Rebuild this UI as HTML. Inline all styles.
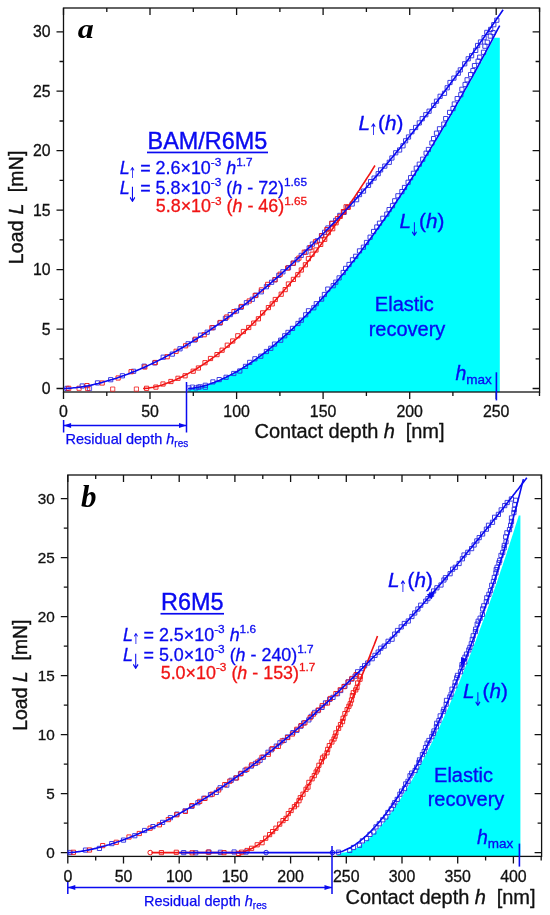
<!DOCTYPE html><html><head><meta charset="utf-8"><title>Load-depth curves</title><style>html,body{margin:0;padding:0;background:#fff}svg{display:block}</style></head><body>
<svg width="550" height="915" viewBox="0 0 550 915" font-family='"Liberation Sans", Arial, sans-serif'>
<rect width="550" height="915" fill="#fff"/>
<polygon fill="#00ffff" points="188.7,388.5 189.5,388.5 190.4,388.4 191.3,388.4 192.1,388.3 193.0,388.2 193.9,388.1 194.7,388.0 195.6,387.8 196.5,387.7 197.3,387.5 198.2,387.4 199.1,387.2 199.9,387.0 200.8,386.8 201.7,386.6 202.5,386.4 203.4,386.1 204.2,385.9 205.1,385.7 206.0,385.4 206.8,385.2 207.7,384.9 208.6,384.6 209.4,384.3 210.3,384.0 211.2,383.8 212.0,383.4 212.9,383.1 213.8,382.8 214.6,382.5 215.5,382.2 216.4,381.8 217.2,381.5 218.1,381.1 219.0,380.7 219.8,380.4 220.7,380.0 221.6,379.6 222.4,379.2 223.3,378.8 224.2,378.4 225.0,378.0 225.9,377.6 226.8,377.2 227.6,376.8 228.5,376.3 229.4,375.9 230.2,375.4 231.1,375.0 232.0,374.5 232.8,374.1 233.7,373.6 234.6,373.1 235.4,372.6 236.3,372.2 237.2,371.7 238.0,371.2 238.9,370.7 239.7,370.1 240.6,369.6 241.5,369.1 242.3,368.6 243.2,368.0 244.1,367.5 244.9,367.0 245.8,366.4 246.7,365.9 247.5,365.3 248.4,364.7 249.3,364.2 250.1,363.6 251.0,363.0 251.9,362.4 252.7,361.8 253.6,361.2 254.5,360.6 255.3,360.0 256.2,359.4 257.1,358.8 257.9,358.2 258.8,357.5 259.7,356.9 260.5,356.3 261.4,355.6 262.3,355.0 263.1,354.3 264.0,353.7 264.9,353.0 265.7,352.3 266.6,351.7 267.5,351.0 268.3,350.3 269.2,349.6 270.1,348.9 270.9,348.2 271.8,347.5 272.7,346.8 273.5,346.1 274.4,345.4 275.3,344.7 276.1,343.9 277.0,343.2 277.9,342.5 278.7,341.7 279.6,341.0 280.5,340.2 281.3,339.5 282.2,338.7 283.1,338.0 283.9,337.2 284.8,336.4 285.7,335.6 286.5,334.9 287.4,334.1 288.3,333.3 289.1,332.5 290.0,331.7 290.9,330.9 291.7,330.1 292.6,329.3 293.5,328.5 294.3,327.6 295.2,326.8 296.1,326.0 296.9,325.1 297.8,324.3 298.7,323.5 299.5,322.6 300.4,321.8 301.3,320.9 302.1,320.0 303.0,319.2 303.9,318.3 304.7,317.4 305.6,316.6 306.5,315.7 307.3,314.8 308.2,313.9 309.1,313.0 309.9,312.1 310.8,311.2 311.7,310.3 312.5,309.4 313.4,308.5 314.3,307.6 315.1,306.6 316.0,305.7 316.9,304.8 317.7,303.8 318.6,302.9 319.5,302.0 320.3,301.0 321.2,300.1 322.1,299.1 322.9,298.1 323.8,297.2 324.7,296.2 325.5,295.2 326.4,294.3 327.3,293.3 328.1,292.3 329.0,291.3 329.9,290.3 330.7,289.3 331.6,288.3 332.5,287.3 333.3,286.3 334.2,285.3 335.1,284.3 335.9,283.3 336.8,282.2 337.7,281.2 338.5,280.2 339.4,279.2 340.3,278.1 341.1,277.1 342.0,276.0 342.9,275.0 343.7,273.9 344.6,272.9 345.5,271.8 346.3,270.7 347.2,269.7 348.1,268.6 348.9,267.5 349.8,266.4 350.7,265.3 351.5,264.3 352.4,263.2 353.3,262.1 354.1,261.0 355.0,259.9 355.9,258.8 356.7,257.6 357.6,256.5 358.5,255.4 359.3,254.3 360.2,253.2 361.1,252.0 361.9,250.9 362.8,249.8 363.7,248.6 364.5,247.5 365.4,246.3 366.3,245.2 367.1,244.0 368.0,242.9 368.9,241.7 369.7,240.5 370.6,239.4 371.5,238.2 372.3,237.0 373.2,235.8 374.1,234.7 374.9,233.5 375.8,232.3 376.7,231.1 377.5,229.9 378.4,228.7 379.3,227.5 380.1,226.3 381.0,225.0 381.9,223.8 382.7,222.6 383.6,221.4 384.5,220.2 385.3,218.9 386.2,217.7 387.1,216.5 387.9,215.2 388.8,214.0 389.7,212.7 390.5,211.5 391.4,210.2 392.3,209.0 393.1,207.7 394.0,206.4 394.9,205.2 395.7,203.9 396.6,202.6 397.5,201.3 398.3,200.0 399.2,198.8 400.1,197.5 400.9,196.2 401.8,194.9 402.7,193.6 403.5,192.3 404.4,191.0 405.3,189.7 406.1,188.3 407.0,187.0 407.9,185.7 408.7,184.4 409.6,183.1 410.5,181.7 411.3,180.4 412.2,179.0 413.1,177.7 413.9,176.4 414.8,175.0 415.7,173.7 416.5,172.3 417.4,171.0 418.3,169.6 419.1,168.2 420.0,166.9 420.9,165.5 421.7,164.1 422.6,162.7 423.5,161.4 424.3,160.0 425.2,158.6 426.1,157.2 426.9,155.8 427.8,154.4 428.7,153.0 429.5,151.6 430.4,150.2 431.3,148.8 432.1,147.4 433.0,145.9 433.9,144.5 434.8,143.1 435.6,141.7 436.5,140.2 437.4,138.8 438.2,137.4 439.1,135.9 440.0,134.5 440.8,133.0 441.7,131.6 442.6,130.1 443.4,128.7 444.3,127.2 445.2,125.8 446.0,124.3 446.9,122.8 447.8,121.3 448.6,119.9 449.5,118.4 450.4,116.9 451.2,115.4 452.1,113.9 453.0,112.4 453.8,110.9 454.7,109.4 455.6,107.9 456.4,106.4 457.3,104.9 458.2,103.4 459.0,101.9 459.9,100.4 460.8,98.9 461.6,97.3 462.5,95.8 463.4,94.3 464.2,92.8 465.1,91.2 466.0,89.7 466.8,88.1 467.7,86.6 468.6,85.0 469.4,83.5 470.3,81.9 471.2,80.4 472.0,78.8 472.9,77.3 473.8,75.7 474.6,74.1 475.5,72.5 476.4,71.0 477.2,69.4 478.1,67.8 479.0,66.2 479.9,64.6 480.7,63.0 481.6,61.4 482.5,59.8 483.3,58.2 484.2,56.6 485.1,55.0 485.9,53.4 486.8,51.8 487.7,50.2 488.5,48.6 489.4,47.0 490.3,45.3 491.1,43.7 492.0,42.1 492.9,40.4 493.7,38.8 493.7,37.7 499.8,37.7 499.8,392.0 188.1,392.0"/>
<rect x="63.5" y="8.0" width="476.1" height="384.0" fill="none" stroke="#111" stroke-width="1.3"/>
<path d="M63.5 388.5h-7.0M539.6 388.5h-7.0M63.5 358.8h-4.0M539.6 358.8h-4.0M63.5 329.1h-7.0M539.6 329.1h-7.0M63.5 299.3h-4.0M539.6 299.3h-4.0M63.5 269.6h-7.0M539.6 269.6h-7.0M63.5 239.9h-4.0M539.6 239.9h-4.0M63.5 210.1h-7.0M539.6 210.1h-7.0M63.5 180.4h-4.0M539.6 180.4h-4.0M63.5 150.7h-7.0M539.6 150.7h-7.0M63.5 121.0h-4.0M539.6 121.0h-4.0M63.5 91.2h-7.0M539.6 91.2h-7.0M63.5 61.5h-4.0M539.6 61.5h-4.0M63.5 31.8h-7.0M539.6 31.8h-7.0M63.5 392.0v7.0M63.5 8.0v7.0M106.8 392.0v4.0M106.8 8.0v4.0M150.0 392.0v7.0M150.0 8.0v7.0M193.3 392.0v4.0M193.3 8.0v4.0M236.6 392.0v7.0M236.6 8.0v7.0M279.9 392.0v4.0M279.9 8.0v4.0M323.1 392.0v7.0M323.1 8.0v7.0M366.4 392.0v4.0M366.4 8.0v4.0M409.7 392.0v7.0M409.7 8.0v7.0M452.9 392.0v4.0M452.9 8.0v4.0M496.2 392.0v7.0M496.2 8.0v7.0M539.5 392.0v4.0M539.5 8.0v4.0" stroke="#111" stroke-width="1.3" fill="none"/>
<text x="50.5" y="394.1" text-anchor="end" font-size="15.8" fill="#111" stroke="#111" stroke-width="0.3">0</text>
<text x="50.5" y="334.7" text-anchor="end" font-size="15.8" fill="#111" stroke="#111" stroke-width="0.3">5</text>
<text x="50.5" y="275.2" text-anchor="end" font-size="15.8" fill="#111" stroke="#111" stroke-width="0.3">10</text>
<text x="50.5" y="215.7" text-anchor="end" font-size="15.8" fill="#111" stroke="#111" stroke-width="0.3">15</text>
<text x="50.5" y="156.3" text-anchor="end" font-size="15.8" fill="#111" stroke="#111" stroke-width="0.3">20</text>
<text x="50.5" y="96.8" text-anchor="end" font-size="15.8" fill="#111" stroke="#111" stroke-width="0.3">25</text>
<text x="50.5" y="37.4" text-anchor="end" font-size="15.8" fill="#111" stroke="#111" stroke-width="0.3">30</text>
<text x="63.5" y="416.6" text-anchor="middle" font-size="15.9" fill="#111" stroke="#111" stroke-width="0.3">0</text>
<text x="150.0" y="416.6" text-anchor="middle" font-size="15.9" fill="#111" stroke="#111" stroke-width="0.3">50</text>
<text x="236.6" y="416.6" text-anchor="middle" font-size="15.9" fill="#111" stroke="#111" stroke-width="0.3">100</text>
<text x="323.1" y="416.6" text-anchor="middle" font-size="15.9" fill="#111" stroke="#111" stroke-width="0.3">150</text>
<text x="409.7" y="416.6" text-anchor="middle" font-size="15.9" fill="#111" stroke="#111" stroke-width="0.3">200</text>
<text x="496.2" y="416.6" text-anchor="middle" font-size="15.9" fill="#111" stroke="#111" stroke-width="0.3">250</text>
<path d="M64.9 386.3h4.2v4.2h-4.2zM80.1 383.9h4.2v4.2h-4.2zM95.4 380.8h4.2v4.2h-4.2zM108.6 377.6h4.2v4.2h-4.2zM120.3 373.7h4.2v4.2h-4.2zM131.5 369.2h4.2v4.2h-4.2zM142.0 364.1h4.2v4.2h-4.2zM152.6 360.8h4.2v4.2h-4.2zM161.1 355.1h4.2v4.2h-4.2zM170.2 352.0h4.2v4.2h-4.2zM177.9 346.7h4.2v4.2h-4.2zM186.0 341.7h4.2v4.2h-4.2zM192.7 337.9h4.2v4.2h-4.2zM198.4 333.1h4.2v4.2h-4.2zM205.1 330.1h4.2v4.2h-4.2zM211.0 325.6h4.2v4.2h-4.2zM217.9 320.9h4.2v4.2h-4.2zM223.3 316.3h4.2v4.2h-4.2zM228.1 312.5h4.2v4.2h-4.2zM234.4 308.9h4.2v4.2h-4.2zM238.9 305.2h4.2v4.2h-4.2zM244.3 300.6h4.2v4.2h-4.2zM250.2 297.2h4.2v4.2h-4.2zM253.9 293.1h4.2v4.2h-4.2zM259.2 289.7h4.2v4.2h-4.2zM264.3 284.6h4.2v4.2h-4.2zM269.5 280.2h4.2v4.2h-4.2zM272.8 277.6h4.2v4.2h-4.2zM276.7 273.3h4.2v4.2h-4.2zM280.8 269.7h4.2v4.2h-4.2zM286.4 265.6h4.2v4.2h-4.2zM291.0 261.2h4.2v4.2h-4.2zM295.0 257.6h4.2v4.2h-4.2zM299.1 253.3h4.2v4.2h-4.2zM303.9 250.0h4.2v4.2h-4.2zM307.1 245.8h4.2v4.2h-4.2zM310.3 242.0h4.2v4.2h-4.2zM315.2 238.7h4.2v4.2h-4.2zM319.4 233.5h4.2v4.2h-4.2zM322.5 230.2h4.2v4.2h-4.2zM325.8 225.9h4.2v4.2h-4.2zM329.9 221.2h4.2v4.2h-4.2zM333.6 218.3h4.2v4.2h-4.2zM337.7 213.3h4.2v4.2h-4.2zM342.0 210.3h4.2v4.2h-4.2zM345.4 205.3h4.2v4.2h-4.2zM350.1 201.9h4.2v4.2h-4.2zM354.5 197.6h4.2v4.2h-4.2zM357.4 192.5h4.2v4.2h-4.2zM361.4 189.0h4.2v4.2h-4.2zM366.4 183.2h4.2v4.2h-4.2zM368.5 179.5h4.2v4.2h-4.2zM372.0 176.0h4.2v4.2h-4.2zM376.1 171.6h4.2v4.2h-4.2zM378.5 167.8h4.2v4.2h-4.2zM382.7 164.0h4.2v4.2h-4.2zM387.2 160.2h4.2v4.2h-4.2zM389.8 155.9h4.2v4.2h-4.2zM393.6 150.7h4.2v4.2h-4.2zM397.5 147.9h4.2v4.2h-4.2zM400.9 143.7h4.2v4.2h-4.2zM403.5 138.7h4.2v4.2h-4.2zM406.4 134.9h4.2v4.2h-4.2zM409.8 129.6h4.2v4.2h-4.2zM413.5 125.4h4.2v4.2h-4.2zM417.2 120.8h4.2v4.2h-4.2zM420.1 116.6h4.2v4.2h-4.2zM423.7 112.6h4.2v4.2h-4.2zM427.0 109.1h4.2v4.2h-4.2zM431.6 103.3h4.2v4.2h-4.2zM434.4 99.1h4.2v4.2h-4.2zM438.0 94.2h4.2v4.2h-4.2zM442.4 91.2h4.2v4.2h-4.2zM445.1 85.7h4.2v4.2h-4.2zM447.9 80.4h4.2v4.2h-4.2zM451.8 76.0h4.2v4.2h-4.2zM456.2 71.1h4.2v4.2h-4.2zM458.2 67.8h4.2v4.2h-4.2zM462.6 61.7h4.2v4.2h-4.2zM466.1 56.7h4.2v4.2h-4.2zM469.5 53.6h4.2v4.2h-4.2zM473.6 48.3h4.2v4.2h-4.2zM475.5 43.4h4.2v4.2h-4.2zM478.4 39.9h4.2v4.2h-4.2zM482.0 35.6h4.2v4.2h-4.2zM484.7 30.3h4.2v4.2h-4.2zM488.6 27.3h4.2v4.2h-4.2zM491.7 22.6h4.2v4.2h-4.2zM494.7 18.1h4.2v4.2h-4.2z" fill="none" stroke="#2a2ae0" stroke-width="1" opacity="0.9"/>
<path d="M196.4 385.1h4.2v4.2h-4.2zM203.2 383.2h4.2v4.2h-4.2zM210.8 379.8h4.2v4.2h-4.2zM217.1 377.5h4.2v4.2h-4.2zM224.0 375.2h4.2v4.2h-4.2zM231.7 371.4h4.2v4.2h-4.2zM237.7 368.9h4.2v4.2h-4.2zM243.4 364.3h4.2v4.2h-4.2zM247.6 360.3h4.2v4.2h-4.2zM252.8 356.7h4.2v4.2h-4.2zM258.7 354.1h4.2v4.2h-4.2zM264.3 349.4h4.2v4.2h-4.2zM268.7 346.2h4.2v4.2h-4.2zM272.4 342.0h4.2v4.2h-4.2zM278.6 338.1h4.2v4.2h-4.2zM282.6 333.7h4.2v4.2h-4.2zM285.9 330.3h4.2v4.2h-4.2zM290.4 326.3h4.2v4.2h-4.2zM295.9 321.4h4.2v4.2h-4.2zM299.2 318.1h4.2v4.2h-4.2zM303.6 312.7h4.2v4.2h-4.2zM306.4 308.7h4.2v4.2h-4.2zM311.7 305.7h4.2v4.2h-4.2zM314.2 301.6h4.2v4.2h-4.2zM319.5 297.0h4.2v4.2h-4.2zM322.3 292.4h4.2v4.2h-4.2zM325.7 287.0h4.2v4.2h-4.2zM331.1 283.6h4.2v4.2h-4.2zM333.7 280.1h4.2v4.2h-4.2zM337.0 275.8h4.2v4.2h-4.2zM341.1 270.4h4.2v4.2h-4.2zM343.5 266.3h4.2v4.2h-4.2zM346.9 262.4h4.2v4.2h-4.2zM350.4 257.7h4.2v4.2h-4.2zM353.6 254.2h4.2v4.2h-4.2zM357.4 248.8h4.2v4.2h-4.2zM361.3 245.1h4.2v4.2h-4.2zM364.4 240.4h4.2v4.2h-4.2zM368.0 235.1h4.2v4.2h-4.2zM371.5 229.4h4.2v4.2h-4.2zM374.7 224.9h4.2v4.2h-4.2zM377.4 221.1h4.2v4.2h-4.2zM380.7 216.2h4.2v4.2h-4.2zM384.7 212.0h4.2v4.2h-4.2zM387.0 207.5h4.2v4.2h-4.2zM390.4 203.6h4.2v4.2h-4.2zM392.6 198.7h4.2v4.2h-4.2zM395.8 193.7h4.2v4.2h-4.2zM399.8 189.5h4.2v4.2h-4.2zM402.4 185.4h4.2v4.2h-4.2zM406.0 180.2h4.2v4.2h-4.2zM408.5 175.6h4.2v4.2h-4.2zM411.3 171.2h4.2v4.2h-4.2zM414.2 166.1h4.2v4.2h-4.2zM417.2 162.1h4.2v4.2h-4.2zM420.6 157.1h4.2v4.2h-4.2zM424.0 151.1h4.2v4.2h-4.2zM426.3 147.4h4.2v4.2h-4.2zM429.8 140.9h4.2v4.2h-4.2zM431.5 136.5h4.2v4.2h-4.2zM434.4 131.1h4.2v4.2h-4.2zM437.4 126.7h4.2v4.2h-4.2zM441.7 122.0h4.2v4.2h-4.2zM443.6 116.5h4.2v4.2h-4.2zM447.5 110.3h4.2v4.2h-4.2zM450.9 106.5h4.2v4.2h-4.2zM452.2 101.9h4.2v4.2h-4.2zM455.1 96.5h4.2v4.2h-4.2zM458.7 92.6h4.2v4.2h-4.2zM459.8 87.2h4.2v4.2h-4.2zM463.0 82.4h4.2v4.2h-4.2zM465.0 77.7h4.2v4.2h-4.2zM468.5 72.5h4.2v4.2h-4.2zM470.8 68.5h4.2v4.2h-4.2zM472.4 63.5h4.2v4.2h-4.2zM476.0 59.1h4.2v4.2h-4.2zM477.6 55.1h4.2v4.2h-4.2zM481.4 50.2h4.2v4.2h-4.2zM482.8 44.1h4.2v4.2h-4.2zM485.2 40.1h4.2v4.2h-4.2zM488.2 34.0h4.2v4.2h-4.2zM491.0 30.5h4.2v4.2h-4.2z" fill="none" stroke="#2a2ae0" stroke-width="1" opacity="0.9"/>
<path d="M66.6 386.2h4.2v4.2h-4.2zM84.9 383.5h4.2v4.2h-4.2zM100.1 380.9h4.2v4.2h-4.2zM116.0 375.9h4.2v4.2h-4.2zM129.0 369.6h4.2v4.2h-4.2zM142.7 364.9h4.2v4.2h-4.2zM153.2 360.4h4.2v4.2h-4.2zM165.1 354.6h4.2v4.2h-4.2zM174.0 349.2h4.2v4.2h-4.2zM183.5 343.7h4.2v4.2h-4.2zM193.3 337.1h4.2v4.2h-4.2zM202.1 332.6h4.2v4.2h-4.2zM209.8 325.6h4.2v4.2h-4.2zM218.1 320.4h4.2v4.2h-4.2zM224.7 314.9h4.2v4.2h-4.2zM231.9 309.5h4.2v4.2h-4.2zM239.3 304.4h4.2v4.2h-4.2zM247.1 298.9h4.2v4.2h-4.2zM253.1 293.4h4.2v4.2h-4.2zM259.3 287.8h4.2v4.2h-4.2zM265.6 282.3h4.2v4.2h-4.2zM273.0 277.6h4.2v4.2h-4.2zM278.1 272.1h4.2v4.2h-4.2zM285.5 266.0h4.2v4.2h-4.2zM291.3 261.0h4.2v4.2h-4.2zM296.8 256.0h4.2v4.2h-4.2zM302.2 250.1h4.2v4.2h-4.2zM308.4 245.5h4.2v4.2h-4.2zM313.4 239.7h4.2v4.2h-4.2zM319.7 233.7h4.2v4.2h-4.2zM324.7 227.5h4.2v4.2h-4.2zM329.7 221.3h4.2v4.2h-4.2zM335.4 216.5h4.2v4.2h-4.2zM341.3 209.5h4.2v4.2h-4.2zM346.2 205.1h4.2v4.2h-4.2z" fill="none" stroke="#f01414" stroke-width="1" opacity="0.9"/>
<path d="M144.5 386.2h4.2v4.2h-4.2zM153.8 385.0h4.2v4.2h-4.2zM160.9 381.9h4.2v4.2h-4.2zM168.8 379.4h4.2v4.2h-4.2zM175.9 376.2h4.2v4.2h-4.2zM183.0 373.7h4.2v4.2h-4.2zM191.1 369.1h4.2v4.2h-4.2zM196.3 365.9h4.2v4.2h-4.2zM202.9 360.6h4.2v4.2h-4.2zM208.4 356.4h4.2v4.2h-4.2zM214.9 352.5h4.2v4.2h-4.2zM220.0 348.1h4.2v4.2h-4.2zM225.2 343.1h4.2v4.2h-4.2zM230.6 338.9h4.2v4.2h-4.2zM235.7 333.7h4.2v4.2h-4.2zM241.3 329.4h4.2v4.2h-4.2zM246.6 325.4h4.2v4.2h-4.2zM251.6 321.0h4.2v4.2h-4.2zM256.3 316.7h4.2v4.2h-4.2zM260.5 310.8h4.2v4.2h-4.2zM266.3 305.5h4.2v4.2h-4.2zM270.1 301.8h4.2v4.2h-4.2zM273.2 297.4h4.2v4.2h-4.2zM279.1 292.1h4.2v4.2h-4.2zM283.1 287.5h4.2v4.2h-4.2zM286.3 281.9h4.2v4.2h-4.2zM291.3 277.3h4.2v4.2h-4.2zM295.7 272.6h4.2v4.2h-4.2zM299.2 267.9h4.2v4.2h-4.2zM303.3 262.7h4.2v4.2h-4.2zM306.3 256.6h4.2v4.2h-4.2zM310.0 252.1h4.2v4.2h-4.2zM313.9 247.9h4.2v4.2h-4.2zM318.6 242.3h4.2v4.2h-4.2zM322.6 237.2h4.2v4.2h-4.2zM326.2 230.6h4.2v4.2h-4.2zM330.6 226.6h4.2v4.2h-4.2zM334.0 220.7h4.2v4.2h-4.2zM338.1 214.3h4.2v4.2h-4.2zM341.7 209.7h4.2v4.2h-4.2zM344.0 204.7h4.2v4.2h-4.2z" fill="none" stroke="#f01414" stroke-width="1" opacity="0.9"/>
<path d="M186.9 385.8h4.2v4.2h-4.2z" fill="none" stroke="#2a2ae0" stroke-width="0.9" opacity="0.85"/>
<path d="M190.3 385.0h4.2v4.2h-4.2z" fill="none" stroke="#2a2ae0" stroke-width="0.9" opacity="0.85"/>
<path d="M193.8 385.8h4.2v4.2h-4.2z" fill="none" stroke="#2a2ae0" stroke-width="0.9" opacity="0.85"/>
<path d="M198.1 384.6h4.2v4.2h-4.2z" fill="none" stroke="#2a2ae0" stroke-width="0.9" opacity="0.85"/>
<path d="M203.3 385.2h4.2v4.2h-4.2z" fill="none" stroke="#2a2ae0" stroke-width="0.9" opacity="0.85"/>
<path d="M87.4 386.4h4.2v4.2h-4.2z" fill="none" stroke="#2a2ae0" stroke-width="0.9" opacity="0.85"/>
<path d="M110.6 387.0h4.2v4.2h-4.2z" fill="none" stroke="#f01414" stroke-width="0.9" opacity="0.85"/>
<path d="M134.3 387.0h4.2v4.2h-4.2z" fill="none" stroke="#f01414" stroke-width="0.9" opacity="0.85"/>
<path d="M77.0 386.2h4.2v4.2h-4.2z" fill="none" stroke="#f01414" stroke-width="0.9" opacity="0.85"/>
<path d="M85.6 386.4h4.2v4.2h-4.2z" fill="none" stroke="#f01414" stroke-width="0.9" opacity="0.85"/>
<polyline points="143.1,388.5 144.8,388.4 146.6,388.3 148.3,388.1 150.0,387.8 151.8,387.5 153.5,387.2 155.2,386.8 157.0,386.4 158.7,385.9 160.4,385.4 162.2,384.9 163.9,384.3 165.6,383.8 167.3,383.1 169.1,382.5 170.8,381.8 172.5,381.1 174.3,380.4 176.0,379.6 177.7,378.8 179.5,378.0 181.2,377.2 182.9,376.3 184.7,375.4 186.4,374.5 188.1,373.6 189.8,372.6 191.6,371.7 193.3,370.7 195.0,369.6 196.8,368.6 198.5,367.5 200.2,366.4 202.0,365.3 203.7,364.2 205.4,363.0 207.2,361.8 208.9,360.6 210.6,359.4 212.3,358.2 214.1,356.9 215.8,355.6 217.5,354.3 219.3,353.0 221.0,351.7 222.7,350.3 224.5,348.9 226.2,347.5 227.9,346.1 229.7,344.7 231.4,343.2 233.1,341.7 234.8,340.2 236.6,338.7 238.3,337.2 240.0,335.6 241.8,334.1 243.5,332.5 245.2,330.9 247.0,329.3 248.7,327.6 250.4,326.0 252.2,324.3 253.9,322.6 255.6,320.9 257.3,319.2 259.1,317.4 260.8,315.7 262.5,313.9 264.3,312.1 266.0,310.3 267.7,308.5 269.5,306.6 271.2,304.8 272.9,302.9 274.7,301.0 276.4,299.1 278.1,297.2 279.9,295.2 281.6,293.3 283.3,291.3 285.0,289.3 286.8,287.3 288.5,285.3 290.2,283.3 292.0,281.2 293.7,279.2 295.4,277.1 297.2,275.0 298.9,272.9 300.6,270.7 302.4,268.6 304.1,266.4 305.8,264.3 307.5,262.1 309.3,259.9 311.0,257.6 312.7,255.4 314.5,253.2 316.2,250.9 317.9,248.6 319.7,246.3 321.4,244.0 323.1,241.7 324.9,239.4 326.6,237.0 328.3,234.7 330.0,232.3 331.8,229.9 333.5,227.5 335.2,225.0 337.0,222.6 338.7,220.2 340.4,217.7 342.2,215.2 343.9,212.7 345.6,210.2 347.4,207.7 349.1,205.2 350.8,202.6 352.5,200.0 354.3,197.5 356.0,194.9 357.7,192.3 359.5,189.7 361.2,187.0 362.9,184.4 364.7,181.7 366.4,179.0 368.1,176.4 369.9,173.7 371.6,171.0 373.3,168.2 375.0,165.5" fill="none" stroke="#f01414" stroke-width="1.6"/>
<polyline points="63.5,388.5 65.2,388.5 67.0,388.4 68.7,388.3 70.4,388.2 72.2,388.0 73.9,387.8 75.6,387.7 77.3,387.4 79.1,387.2 80.8,387.0 82.5,386.7 84.3,386.4 86.0,386.1 87.7,385.8 89.5,385.4 91.2,385.1 92.9,384.7 94.7,384.3 96.4,383.9 98.1,383.5 99.8,383.0 101.6,382.6 103.3,382.1 105.0,381.6 106.8,381.1 108.5,380.6 110.2,380.1 112.0,379.6 113.7,379.0 115.4,378.5 117.2,377.9 118.9,377.3 120.6,376.7 122.3,376.1 124.1,375.5 125.8,374.8 127.5,374.2 129.3,373.5 131.0,372.8 132.7,372.1 134.5,371.4 136.2,370.7 137.9,370.0 139.7,369.3 141.4,368.5 143.1,367.8 144.8,367.0 146.6,366.2 148.3,365.4 150.0,364.6 151.8,363.8 153.5,363.0 155.2,362.1 157.0,361.3 158.7,360.4 160.4,359.5 162.2,358.6 163.9,357.7 165.6,356.8 167.3,355.9 169.1,355.0 170.8,354.0 172.5,353.1 174.3,352.1 176.0,351.2 177.7,350.2 179.5,349.2 181.2,348.2 182.9,347.2 184.7,346.2 186.4,345.1 188.1,344.1 189.8,343.0 191.6,342.0 193.3,340.9 195.0,339.8 196.8,338.7 198.5,337.6 200.2,336.5 202.0,335.4 203.7,334.2 205.4,333.1 207.2,331.9 208.9,330.8 210.6,329.6 212.3,328.4 214.1,327.2 215.8,326.0 217.5,324.8 219.3,323.6 221.0,322.4 222.7,321.1 224.5,319.9 226.2,318.6 227.9,317.3 229.7,316.1 231.4,314.8 233.1,313.5 234.8,312.2 236.6,310.8 238.3,309.5 240.0,308.2 241.8,306.8 243.5,305.5 245.2,304.1 247.0,302.8 248.7,301.4 250.4,300.0 252.2,298.6 253.9,297.2 255.6,295.8 257.3,294.3 259.1,292.9 260.8,291.5 262.5,290.0 264.3,288.6 266.0,287.1 267.7,285.6 269.5,284.1 271.2,282.6 272.9,281.1 274.7,279.6 276.4,278.1 278.1,276.6 279.9,275.0 281.6,273.5 283.3,271.9 285.0,270.4 286.8,268.8 288.5,267.2 290.2,265.6 292.0,264.0 293.7,262.4 295.4,260.8 297.2,259.2 298.9,257.5 300.6,255.9 302.4,254.2 304.1,252.6 305.8,250.9 307.5,249.2 309.3,247.6 311.0,245.9 312.7,244.2 314.5,242.5 316.2,240.7 317.9,239.0 319.7,237.3 321.4,235.5 323.1,233.8 324.9,232.0 326.6,230.3 328.3,228.5 330.0,226.7 331.8,224.9 333.5,223.1 335.2,221.3 337.0,219.5 338.7,217.7 340.4,215.9 342.2,214.0 343.9,212.2 345.6,210.3 347.4,208.5 349.1,206.6 350.8,204.7 352.5,202.8 354.3,200.9 356.0,199.0 357.7,197.1 359.5,195.2 361.2,193.3 362.9,191.3 364.7,189.4 366.4,187.4 368.1,185.5 369.9,183.5 371.6,181.5 373.3,179.6 375.0,177.6 376.8,175.6 378.5,173.6 380.2,171.6 382.0,169.5 383.7,167.5 385.4,165.5 387.2,163.4 388.9,161.4 390.6,159.3 392.4,157.3 394.1,155.2 395.8,153.1 397.5,151.0 399.3,148.9 401.0,146.8 402.7,144.7 404.5,142.6 406.2,140.5 407.9,138.3 409.7,136.2 411.4,134.1 413.1,131.9 414.9,129.7 416.6,127.6 418.3,125.4 420.0,123.2 421.8,121.0 423.5,118.8 425.2,116.6 427.0,114.4 428.7,112.2 430.4,109.9 432.2,107.7 433.9,105.5 435.6,103.2 437.4,100.9 439.1,98.7 440.8,96.4 442.5,94.1 444.3,91.8 446.0,89.5 447.7,87.2 449.5,84.9 451.2,82.6 452.9,80.3 454.7,77.9 456.4,75.6 458.1,73.3 459.9,70.9 461.6,68.5 463.3,66.2 465.0,63.8 466.8,61.4 468.5,59.0 470.2,56.6 472.0,54.2 473.7,51.8 475.4,49.4 477.2,47.0 478.9,44.5 480.6,42.1 482.4,39.6 484.1,37.2 485.8,34.7 487.5,32.3 489.3,29.8 491.0,27.3 492.7,24.8 494.5,22.3 496.2,19.8 497.9,17.3 499.7,14.8 501.4,12.3 503.1,9.7" fill="none" stroke="#0a0af0" stroke-width="1.6"/>
<polyline points="188.1,388.5 189.8,388.4 191.6,388.3 193.3,388.1 195.0,387.8 196.8,387.5 198.5,387.2 200.2,386.8 202.0,386.4 203.7,385.9 205.4,385.4 207.2,384.9 208.9,384.3 210.6,383.8 212.3,383.1 214.1,382.5 215.8,381.8 217.5,381.1 219.3,380.4 221.0,379.6 222.7,378.8 224.5,378.0 226.2,377.2 227.9,376.3 229.7,375.4 231.4,374.5 233.1,373.6 234.8,372.6 236.6,371.7 238.3,370.7 240.0,369.6 241.8,368.6 243.5,367.5 245.2,366.4 247.0,365.3 248.7,364.2 250.4,363.0 252.2,361.8 253.9,360.6 255.6,359.4 257.3,358.2 259.1,356.9 260.8,355.6 262.5,354.3 264.3,353.0 266.0,351.7 267.7,350.3 269.5,348.9 271.2,347.5 272.9,346.1 274.7,344.7 276.4,343.2 278.1,341.7 279.9,340.2 281.6,338.7 283.3,337.2 285.0,335.6 286.8,334.1 288.5,332.5 290.2,330.9 292.0,329.3 293.7,327.6 295.4,326.0 297.2,324.3 298.9,322.6 300.6,320.9 302.4,319.2 304.1,317.4 305.8,315.7 307.5,313.9 309.3,312.1 311.0,310.3 312.7,308.5 314.5,306.6 316.2,304.8 317.9,302.9 319.7,301.0 321.4,299.1 323.1,297.2 324.9,295.2 326.6,293.3 328.3,291.3 330.0,289.3 331.8,287.3 333.5,285.3 335.2,283.3 337.0,281.2 338.7,279.2 340.4,277.1 342.2,275.0 343.9,272.9 345.6,270.7 347.4,268.6 349.1,266.4 350.8,264.3 352.5,262.1 354.3,259.9 356.0,257.6 357.7,255.4 359.5,253.2 361.2,250.9 362.9,248.6 364.7,246.3 366.4,244.0 368.1,241.7 369.9,239.4 371.6,237.0 373.3,234.7 375.0,232.3 376.8,229.9 378.5,227.5 380.2,225.0 382.0,222.6 383.7,220.2 385.4,217.7 387.2,215.2 388.9,212.7 390.6,210.2 392.4,207.7 394.1,205.2 395.8,202.6 397.5,200.0 399.3,197.5 401.0,194.9 402.7,192.3 404.5,189.7 406.2,187.0 407.9,184.4 409.7,181.7 411.4,179.0 413.1,176.4 414.9,173.7 416.6,171.0 418.3,168.2 420.0,165.5 421.8,162.7 423.5,160.0 425.2,157.2 427.0,154.4 428.7,151.6 430.4,148.8 432.2,145.9 433.9,143.1 435.6,140.2 437.4,137.4 439.1,134.5 440.8,131.6 442.5,128.7 444.3,125.8 446.0,122.8 447.7,119.9 449.5,116.9 451.2,113.9 452.9,110.9 454.7,107.9 456.4,104.9 458.1,101.9 459.9,98.9 461.6,95.8 463.3,92.8 465.0,89.7 466.8,86.6 468.5,83.5 470.2,80.4 472.0,77.3 473.7,74.1 475.4,71.0 477.2,67.8 478.9,64.6 480.6,61.4 482.4,58.2 484.1,55.0 485.8,51.8 487.5,48.6 489.3,45.3 491.0,42.1 492.7,38.8 494.5,35.5 496.2,32.2 497.9,28.9 499.7,25.6" fill="none" stroke="#0a0af0" stroke-width="1.6"/>
<text transform="translate(77.8,37.9) scale(1.16,1)" font-family='"Liberation Serif", serif' font-weight="bold" font-style="italic" font-size="27.6" fill="#000">a</text>
<text transform="translate(23.3,264.3) rotate(-90)" font-size="19.4" fill="#111" stroke="#111" stroke-width="0.4" textLength="113.6" xml:space="preserve">Load <tspan font-style="italic">L</tspan>  [mN]</text>
<text x="254.5" y="438.3" font-size="20" fill="#111" stroke="#111" stroke-width="0.34" xml:space="preserve" textLength="190">Contact depth <tspan font-style="italic">h</tspan>  [nm]</text>
<text x="147.6" y="149.4" font-size="23.4" fill="#0a0af0" stroke="#0a0af0" stroke-width="0.40" xml:space="preserve" >BAM/R6M5</text>
<rect x="147" y="151.6" width="121" height="1.7" fill="#0a0af0"/>
<text x="119.7" y="174.0" font-size="17.9" fill="#0a0af0" stroke="#0a0af0" stroke-width="0.30" xml:space="preserve" ><tspan font-style="italic">L</tspan></text>
<text transform="translate(132.5,177.5) scale(0.62,1)" text-anchor="middle" font-family='"DejaVu Sans", sans-serif' font-size="15" fill="#0a0af0">↑</text>
<text x="140.2" y="174.0" font-size="17.9" fill="#0a0af0" stroke="#0a0af0" stroke-width="0.30" xml:space="preserve" >= 2.6×10<tspan font-size="11.8" dy="-7.8">-3</tspan><tspan dy="7.8"> </tspan><tspan font-style="italic">h</tspan><tspan font-size="11.8" dy="-7.8">1.7</tspan></text>
<text x="119.7" y="193.8" font-size="17.9" fill="#0a0af0" stroke="#0a0af0" stroke-width="0.30" xml:space="preserve" ><tspan font-style="italic">L</tspan></text>
<text transform="translate(132.5,202.3) scale(0.62,1)" text-anchor="middle" font-family='"DejaVu Sans", sans-serif' font-size="21" fill="#0a0af0">↓</text>
<text x="140.2" y="193.8" font-size="17.9" fill="#0a0af0" stroke="#0a0af0" stroke-width="0.30" xml:space="preserve" >= 5.8×10<tspan font-size="11.8" dy="-7.8">-3</tspan><tspan dy="7.8"> </tspan>(<tspan font-style="italic">h</tspan> - 72)<tspan font-size="11.8" dy="-7.8">1.65</tspan></text>
<text x="155.8" y="212.3" font-size="17.9" fill="#f01414" stroke="#f01414" stroke-width="0.30" xml:space="preserve" >5.8×10<tspan font-size="11.8" dy="-7.8">-3</tspan><tspan dy="7.8"> </tspan>(<tspan font-style="italic">h</tspan> - 46)<tspan font-size="11.8" dy="-7.8">1.65</tspan></text>
<text x="358.5" y="129.5" font-size="20.7" fill="#0a0af0" stroke="#0a0af0" stroke-width="0.35" xml:space="preserve" ><tspan font-style="italic">L</tspan></text>
<text transform="translate(373.5,134.5) scale(0.62,1)" text-anchor="middle" font-family='"DejaVu Sans", sans-serif' font-size="16" fill="#0a0af0">↑</text>
<text x="378.0" y="129.5" font-size="20.7" fill="#0a0af0" stroke="#0a0af0" stroke-width="0.35" xml:space="preserve" >(<tspan font-style="italic">h</tspan>)</text>
<text x="399.5" y="227.5" font-size="20.7" fill="#0a0af0" stroke="#0a0af0" stroke-width="0.35" xml:space="preserve" ><tspan font-style="italic">L</tspan></text>
<text transform="translate(414.5,235.5) scale(0.62,1)" text-anchor="middle" font-family='"DejaVu Sans", sans-serif' font-size="19" fill="#0a0af0">↓</text>
<text x="419.0" y="227.5" font-size="20.7" fill="#0a0af0" stroke="#0a0af0" stroke-width="0.35" xml:space="preserve" >(<tspan font-style="italic">h</tspan>)</text>
<text x="404.3" y="311.2" font-size="20" fill="#0a0af0" stroke="#0a0af0" stroke-width="0.34" xml:space="preserve" text-anchor="middle">Elastic</text>
<text x="407.0" y="336.0" font-size="20" fill="#0a0af0" stroke="#0a0af0" stroke-width="0.34" xml:space="preserve" text-anchor="middle">recovery</text>
<text x="455.5" y="380.0" font-size="19.5" fill="#0a0af0" stroke="#0a0af0" stroke-width="0.33" xml:space="preserve" ><tspan font-style="italic">h</tspan><tspan font-size="13.5" dy="3.5">max</tspan></text>
<path d="M496.4 372.3V400.4" stroke="#0a0af0" stroke-width="1.6"/>
<path d="M63.6 420.0V432.5M186.5 382.0V432.5M63.6 425.5H186.5" stroke="#0a0af0" stroke-width="1.5" fill="none"/>
<path d="M63.6 425.5l7.5 -2.4v4.8zM186.5 425.5l-7.5 -2.4v4.8z" fill="#0a0af0"/>
<text x="65.5" y="443.8" font-size="14.5" fill="#0a0af0" stroke="#0a0af0" stroke-width="0.25" xml:space="preserve" >Residual depth <tspan font-style="italic">h</tspan><tspan font-size="10" dy="3">res</tspan></text>
<polygon fill="#00ffff" points="342.7,852.6 343.2,852.6 343.8,852.5 344.3,852.5 344.9,852.4 345.4,852.3 346.0,852.2 346.5,852.1 347.0,852.0 347.6,851.8 348.1,851.7 348.7,851.5 349.2,851.4 349.7,851.2 350.3,851.0 350.8,850.8 351.3,850.6 351.9,850.4 352.4,850.1 352.9,849.9 353.4,849.6 354.0,849.4 354.5,849.1 355.0,848.8 355.5,848.6 356.1,848.3 356.6,848.0 357.1,847.7 357.6,847.4 358.2,847.0 358.7,846.7 359.2,846.4 359.7,846.0 360.2,845.7 360.8,845.3 361.3,844.9 361.8,844.6 362.3,844.2 362.8,843.8 363.4,843.4 363.9,843.0 364.4,842.6 364.9,842.2 365.4,841.7 365.9,841.3 366.5,840.9 367.0,840.4 367.5,840.0 368.0,839.5 368.5,839.0 369.0,838.6 369.6,838.1 370.1,837.6 370.6,837.1 371.1,836.6 371.6,836.1 372.1,835.6 372.7,835.1 373.2,834.5 373.7,834.0 374.2,833.5 374.7,832.9 375.2,832.4 375.8,831.8 376.3,831.2 376.8,830.7 377.3,830.1 377.8,829.5 378.3,828.9 378.9,828.3 379.4,827.7 379.9,827.1 380.4,826.5 380.9,825.9 381.5,825.3 382.0,824.6 382.5,824.0 383.0,823.3 383.5,822.7 384.1,822.0 384.6,821.4 385.1,820.7 385.6,820.0 386.2,819.4 386.7,818.7 387.2,818.0 387.7,817.3 388.2,816.6 388.8,815.9 389.3,815.2 389.8,814.5 390.3,813.7 390.9,813.0 391.4,812.3 391.9,811.5 392.5,810.8 393.0,810.0 393.5,809.3 394.0,808.5 394.6,807.8 395.1,807.0 395.6,806.2 396.2,805.4 396.7,804.6 397.2,803.8 397.8,803.0 398.3,802.2 398.8,801.4 399.4,800.6 399.9,799.8 400.4,799.0 401.0,798.1 401.5,797.3 402.0,796.5 402.6,795.6 403.1,794.8 403.6,793.9 404.2,793.0 404.7,792.2 405.2,791.3 405.8,790.4 406.3,789.5 406.9,788.6 407.4,787.7 407.9,786.8 408.5,785.9 409.0,785.0 409.5,784.1 410.1,783.2 410.6,782.3 411.2,781.3 411.7,780.4 412.3,779.5 412.8,778.5 413.3,777.6 413.9,776.6 414.4,775.7 415.0,774.7 415.5,773.7 416.1,772.8 416.6,771.8 417.1,770.8 417.7,769.8 418.2,768.8 418.8,767.8 419.3,766.8 419.9,765.8 420.4,764.8 421.0,763.8 421.5,762.8 422.1,761.7 422.6,760.7 423.1,759.7 423.7,758.6 424.2,757.6 424.8,756.5 425.3,755.5 425.9,754.4 426.4,753.3 427.0,752.3 427.5,751.2 428.1,750.1 428.6,749.0 429.2,747.9 429.7,746.8 430.3,745.7 430.8,744.6 431.4,743.5 431.9,742.4 432.5,741.3 433.0,740.2 433.6,739.0 434.1,737.9 434.7,736.8 435.2,735.6 435.8,734.5 436.3,733.3 436.9,732.2 437.5,731.0 438.0,729.9 438.6,728.7 439.1,727.5 439.7,726.4 440.2,725.2 440.8,724.0 441.3,722.8 441.9,721.6 442.4,720.4 443.0,719.2 443.5,718.0 444.1,716.8 444.6,715.6 445.2,714.3 445.7,713.1 446.3,711.9 446.9,710.6 447.4,709.4 448.0,708.2 448.5,706.9 449.1,705.7 449.6,704.4 450.2,703.1 450.7,701.9 451.3,700.6 451.8,699.3 452.4,698.0 453.0,696.8 453.5,695.5 454.1,694.2 454.6,692.9 455.2,691.6 455.7,690.3 456.3,689.0 456.8,687.7 457.4,686.3 458.0,685.0 458.5,683.7 459.1,682.4 459.6,681.0 460.2,679.7 460.7,678.3 461.3,677.0 461.8,675.6 462.4,674.3 463.0,672.9 463.5,671.5 464.1,670.2 464.6,668.8 465.2,667.4 465.7,666.0 466.3,664.7 466.8,663.3 467.4,661.9 468.0,660.5 468.5,659.1 469.1,657.7 469.6,656.2 470.2,654.8 470.7,653.4 471.3,652.0 471.9,650.5 472.4,649.1 473.0,647.7 473.5,646.2 474.1,644.8 474.6,643.3 475.2,641.9 475.8,640.4 476.3,639.0 476.9,637.5 477.4,636.0 478.0,634.6 478.5,633.1 479.1,631.6 479.6,630.1 480.2,628.6 480.8,627.1 481.3,625.6 481.9,624.1 482.4,622.6 483.0,621.1 483.5,619.6 484.1,618.1 484.7,616.5 485.2,615.0 485.8,613.5 486.3,611.9 486.9,610.4 487.4,608.9 488.0,607.3 488.6,605.8 489.1,604.2 489.7,602.6 490.2,601.1 490.8,599.5 491.3,597.9 491.9,596.4 492.5,594.8 493.0,593.2 493.6,591.6 494.1,590.0 494.7,588.4 495.2,586.8 495.8,585.2 496.4,583.6 496.9,582.0 497.5,580.4 498.0,578.8 498.6,577.1 499.1,575.5 499.7,573.9 500.2,572.2 500.8,570.6 501.4,569.0 501.9,567.3 502.5,565.7 503.0,564.0 503.6,562.3 504.1,560.7 504.7,559.0 505.3,557.3 505.8,555.7 506.4,554.0 506.9,552.3 507.5,550.6 508.0,548.9 508.6,547.2 509.2,545.5 509.7,543.8 510.3,542.1 510.8,540.4 511.4,538.7 511.9,537.0 512.5,535.3 513.1,533.5 513.6,531.8 514.2,530.1 514.7,528.3 515.3,526.6 515.8,524.8 516.4,523.1 517.0,521.3 517.5,519.6 518.1,517.8 518.6,516.1 518.6,515.6 520.4,515.6 520.4,856.4 335.2,856.4"/>
<rect x="67.8" y="475.0" width="473.8" height="381.4" fill="none" stroke="#111" stroke-width="1.3"/>
<path d="M67.8 852.6h-7.0M541.6 852.6h-7.0M67.8 823.1h-4.0M541.6 823.1h-4.0M67.8 793.6h-7.0M541.6 793.6h-7.0M67.8 764.1h-4.0M541.6 764.1h-4.0M67.8 734.6h-7.0M541.6 734.6h-7.0M67.8 705.1h-4.0M541.6 705.1h-4.0M67.8 675.6h-7.0M541.6 675.6h-7.0M67.8 646.1h-4.0M541.6 646.1h-4.0M67.8 616.6h-7.0M541.6 616.6h-7.0M67.8 587.1h-4.0M541.6 587.1h-4.0M67.8 557.6h-7.0M541.6 557.6h-7.0M67.8 528.1h-4.0M541.6 528.1h-4.0M67.8 498.6h-7.0M541.6 498.6h-7.0M67.8 856.4v7.0M67.8 475.0v7.0M95.7 856.4v4.0M95.7 475.0v4.0M123.5 856.4v7.0M123.5 475.0v7.0M151.4 856.4v4.0M151.4 475.0v4.0M179.2 856.4v7.0M179.2 475.0v7.0M207.1 856.4v4.0M207.1 475.0v4.0M234.9 856.4v7.0M234.9 475.0v7.0M262.8 856.4v4.0M262.8 475.0v4.0M290.6 856.4v7.0M290.6 475.0v7.0M318.5 856.4v4.0M318.5 475.0v4.0M346.3 856.4v7.0M346.3 475.0v7.0M374.2 856.4v4.0M374.2 475.0v4.0M402.0 856.4v7.0M402.0 475.0v7.0M429.9 856.4v4.0M429.9 475.0v4.0M457.7 856.4v7.0M457.7 475.0v7.0M485.6 856.4v4.0M485.6 475.0v4.0M513.4 856.4v7.0M513.4 475.0v7.0M541.2 856.4v4.0M541.2 475.0v4.0" stroke="#111" stroke-width="1.3" fill="none"/>
<text x="54.8" y="858.2" text-anchor="end" font-size="15.3" fill="#111" stroke="#111" stroke-width="0.3">0</text>
<text x="54.8" y="799.2" text-anchor="end" font-size="15.3" fill="#111" stroke="#111" stroke-width="0.3">5</text>
<text x="54.8" y="740.2" text-anchor="end" font-size="15.3" fill="#111" stroke="#111" stroke-width="0.3">10</text>
<text x="54.8" y="681.2" text-anchor="end" font-size="15.3" fill="#111" stroke="#111" stroke-width="0.3">15</text>
<text x="54.8" y="622.2" text-anchor="end" font-size="15.3" fill="#111" stroke="#111" stroke-width="0.3">20</text>
<text x="54.8" y="563.2" text-anchor="end" font-size="15.3" fill="#111" stroke="#111" stroke-width="0.3">25</text>
<text x="54.8" y="504.2" text-anchor="end" font-size="15.3" fill="#111" stroke="#111" stroke-width="0.3">30</text>
<text x="67.8" y="881.8" text-anchor="middle" font-size="15.9" fill="#111" stroke="#111" stroke-width="0.3">0</text>
<text x="123.5" y="881.8" text-anchor="middle" font-size="15.9" fill="#111" stroke="#111" stroke-width="0.3">50</text>
<text x="179.2" y="881.8" text-anchor="middle" font-size="15.9" fill="#111" stroke="#111" stroke-width="0.3">100</text>
<text x="234.9" y="881.8" text-anchor="middle" font-size="15.9" fill="#111" stroke="#111" stroke-width="0.3">150</text>
<text x="290.6" y="881.8" text-anchor="middle" font-size="15.9" fill="#111" stroke="#111" stroke-width="0.3">200</text>
<text x="346.3" y="881.8" text-anchor="middle" font-size="15.9" fill="#111" stroke="#111" stroke-width="0.3">250</text>
<text x="402.0" y="881.8" text-anchor="middle" font-size="15.9" fill="#111" stroke="#111" stroke-width="0.3">300</text>
<text x="457.7" y="881.8" text-anchor="middle" font-size="15.9" fill="#111" stroke="#111" stroke-width="0.3">350</text>
<text x="513.4" y="881.8" text-anchor="middle" font-size="15.9" fill="#111" stroke="#111" stroke-width="0.3">400</text>
<path d="M67.9 850.4h4.2v4.2h-4.2zM83.4 848.0h4.2v4.2h-4.2zM97.3 846.3h4.2v4.2h-4.2zM109.7 841.5h4.2v4.2h-4.2zM121.4 838.0h4.2v4.2h-4.2zM132.7 833.6h4.2v4.2h-4.2zM142.5 828.4h4.2v4.2h-4.2zM150.8 824.5h4.2v4.2h-4.2zM160.5 820.3h4.2v4.2h-4.2zM168.3 815.6h4.2v4.2h-4.2zM174.9 812.0h4.2v4.2h-4.2zM183.0 808.8h4.2v4.2h-4.2zM189.7 804.2h4.2v4.2h-4.2zM195.8 800.6h4.2v4.2h-4.2zM201.8 796.2h4.2v4.2h-4.2zM208.4 792.6h4.2v4.2h-4.2zM214.2 790.3h4.2v4.2h-4.2zM218.0 785.7h4.2v4.2h-4.2zM224.7 783.0h4.2v4.2h-4.2zM229.1 778.2h4.2v4.2h-4.2zM233.7 775.9h4.2v4.2h-4.2zM238.4 771.8h4.2v4.2h-4.2zM243.0 768.2h4.2v4.2h-4.2zM249.2 764.0h4.2v4.2h-4.2zM253.4 761.3h4.2v4.2h-4.2zM258.0 758.2h4.2v4.2h-4.2zM261.3 755.1h4.2v4.2h-4.2zM265.9 750.2h4.2v4.2h-4.2zM269.2 747.7h4.2v4.2h-4.2zM274.2 744.0h4.2v4.2h-4.2zM277.8 740.7h4.2v4.2h-4.2zM282.0 738.3h4.2v4.2h-4.2zM285.4 734.9h4.2v4.2h-4.2zM290.8 730.5h4.2v4.2h-4.2zM294.8 728.2h4.2v4.2h-4.2zM298.7 724.1h4.2v4.2h-4.2zM301.6 720.9h4.2v4.2h-4.2zM306.7 717.8h4.2v4.2h-4.2zM309.1 714.3h4.2v4.2h-4.2zM312.6 710.3h4.2v4.2h-4.2zM315.9 708.5h4.2v4.2h-4.2zM319.9 705.3h4.2v4.2h-4.2zM323.4 700.8h4.2v4.2h-4.2zM327.5 697.3h4.2v4.2h-4.2zM330.9 695.3h4.2v4.2h-4.2zM335.4 691.6h4.2v4.2h-4.2zM338.6 688.4h4.2v4.2h-4.2zM342.8 684.2h4.2v4.2h-4.2zM346.0 679.8h4.2v4.2h-4.2zM349.6 677.0h4.2v4.2h-4.2zM353.0 674.1h4.2v4.2h-4.2zM355.5 669.7h4.2v4.2h-4.2zM360.0 666.5h4.2v4.2h-4.2zM362.5 663.6h4.2v4.2h-4.2zM365.6 660.9h4.2v4.2h-4.2zM370.1 656.6h4.2v4.2h-4.2zM372.9 653.3h4.2v4.2h-4.2zM376.1 650.0h4.2v4.2h-4.2zM378.7 646.1h4.2v4.2h-4.2zM382.1 644.0h4.2v4.2h-4.2zM386.0 639.2h4.2v4.2h-4.2zM390.0 637.1h4.2v4.2h-4.2zM392.6 632.0h4.2v4.2h-4.2zM395.4 628.4h4.2v4.2h-4.2zM399.1 624.8h4.2v4.2h-4.2zM402.2 621.4h4.2v4.2h-4.2zM406.2 618.9h4.2v4.2h-4.2zM409.8 614.4h4.2v4.2h-4.2zM412.6 610.9h4.2v4.2h-4.2zM415.8 606.9h4.2v4.2h-4.2zM418.6 603.1h4.2v4.2h-4.2zM423.6 599.1h4.2v4.2h-4.2zM425.8 596.5h4.2v4.2h-4.2zM429.5 592.3h4.2v4.2h-4.2zM431.5 588.9h4.2v4.2h-4.2zM434.8 585.7h4.2v4.2h-4.2zM438.9 582.9h4.2v4.2h-4.2zM441.8 577.9h4.2v4.2h-4.2zM443.3 575.6h4.2v4.2h-4.2zM448.0 571.6h4.2v4.2h-4.2zM450.5 567.1h4.2v4.2h-4.2zM453.2 565.2h4.2v4.2h-4.2zM457.0 561.4h4.2v4.2h-4.2zM460.3 556.7h4.2v4.2h-4.2zM461.9 552.9h4.2v4.2h-4.2zM465.7 550.2h4.2v4.2h-4.2zM469.5 546.5h4.2v4.2h-4.2zM472.0 542.9h4.2v4.2h-4.2zM474.7 538.8h4.2v4.2h-4.2zM477.1 535.5h4.2v4.2h-4.2zM480.5 531.9h4.2v4.2h-4.2zM484.3 527.1h4.2v4.2h-4.2zM486.4 523.2h4.2v4.2h-4.2zM490.4 520.2h4.2v4.2h-4.2zM492.5 515.2h4.2v4.2h-4.2zM496.3 512.3h4.2v4.2h-4.2zM499.1 507.8h4.2v4.2h-4.2zM502.6 503.5h4.2v4.2h-4.2zM505.1 500.4h4.2v4.2h-4.2zM509.3 496.9h4.2v4.2h-4.2z" fill="none" stroke="#2a2ae0" stroke-width="1" opacity="0.9"/>
<path d="M336.4 850.1h4.2v4.2h-4.2zM347.6 848.3h4.2v4.2h-4.2zM351.4 845.4h4.2v4.2h-4.2zM357.4 843.2h4.2v4.2h-4.2zM360.3 838.8h4.2v4.2h-4.2zM364.5 836.5h4.2v4.2h-4.2zM367.9 832.3h4.2v4.2h-4.2zM371.7 829.9h4.2v4.2h-4.2zM373.9 824.8h4.2v4.2h-4.2zM377.2 821.7h4.2v4.2h-4.2zM380.7 817.7h4.2v4.2h-4.2zM383.7 814.9h4.2v4.2h-4.2zM385.8 810.4h4.2v4.2h-4.2zM389.2 806.8h4.2v4.2h-4.2zM391.3 803.2h4.2v4.2h-4.2zM392.6 800.6h4.2v4.2h-4.2zM395.1 797.3h4.2v4.2h-4.2zM397.8 792.1h4.2v4.2h-4.2zM399.5 789.0h4.2v4.2h-4.2zM402.4 786.5h4.2v4.2h-4.2zM403.6 781.8h4.2v4.2h-4.2zM405.9 779.2h4.2v4.2h-4.2zM407.9 773.7h4.2v4.2h-4.2zM409.6 771.0h4.2v4.2h-4.2zM413.0 768.4h4.2v4.2h-4.2zM414.6 765.1h4.2v4.2h-4.2zM416.8 760.3h4.2v4.2h-4.2zM417.4 757.8h4.2v4.2h-4.2zM420.3 752.5h4.2v4.2h-4.2zM422.1 749.4h4.2v4.2h-4.2zM423.4 745.5h4.2v4.2h-4.2zM425.0 741.1h4.2v4.2h-4.2zM426.8 738.4h4.2v4.2h-4.2zM429.7 734.6h4.2v4.2h-4.2zM431.3 731.3h4.2v4.2h-4.2zM431.9 728.9h4.2v4.2h-4.2zM434.3 724.7h4.2v4.2h-4.2zM434.6 721.2h4.2v4.2h-4.2zM436.8 718.5h4.2v4.2h-4.2zM438.1 713.8h4.2v4.2h-4.2zM441.1 709.5h4.2v4.2h-4.2zM441.8 707.2h4.2v4.2h-4.2zM444.1 702.1h4.2v4.2h-4.2zM444.4 698.3h4.2v4.2h-4.2zM447.7 694.9h4.2v4.2h-4.2zM449.0 692.1h4.2v4.2h-4.2zM449.9 687.1h4.2v4.2h-4.2zM452.7 683.8h4.2v4.2h-4.2zM453.1 680.0h4.2v4.2h-4.2zM454.6 675.8h4.2v4.2h-4.2zM455.4 673.3h4.2v4.2h-4.2zM458.4 669.7h4.2v4.2h-4.2zM459.8 665.2h4.2v4.2h-4.2zM459.9 662.5h4.2v4.2h-4.2zM462.6 659.9h4.2v4.2h-4.2zM462.9 655.1h4.2v4.2h-4.2zM464.4 652.0h4.2v4.2h-4.2zM466.7 647.9h4.2v4.2h-4.2zM467.8 645.3h4.2v4.2h-4.2zM469.2 641.7h4.2v4.2h-4.2zM470.2 637.3h4.2v4.2h-4.2zM471.1 633.7h4.2v4.2h-4.2zM473.3 629.5h4.2v4.2h-4.2zM473.6 627.0h4.2v4.2h-4.2zM475.1 622.0h4.2v4.2h-4.2zM476.1 619.1h4.2v4.2h-4.2zM478.0 616.1h4.2v4.2h-4.2zM480.3 612.3h4.2v4.2h-4.2zM480.6 606.8h4.2v4.2h-4.2zM481.7 603.7h4.2v4.2h-4.2zM484.2 599.7h4.2v4.2h-4.2zM484.7 595.7h4.2v4.2h-4.2zM486.8 592.2h4.2v4.2h-4.2zM488.4 588.5h4.2v4.2h-4.2zM489.6 583.2h4.2v4.2h-4.2zM491.3 579.4h4.2v4.2h-4.2zM492.2 575.4h4.2v4.2h-4.2zM493.8 570.9h4.2v4.2h-4.2zM494.1 567.5h4.2v4.2h-4.2zM495.0 565.2h4.2v4.2h-4.2zM496.8 560.7h4.2v4.2h-4.2zM497.6 558.3h4.2v4.2h-4.2zM498.9 553.3h4.2v4.2h-4.2zM500.6 550.4h4.2v4.2h-4.2zM502.0 545.8h4.2v4.2h-4.2zM502.2 543.3h4.2v4.2h-4.2zM503.9 539.7h4.2v4.2h-4.2zM503.6 534.8h4.2v4.2h-4.2zM504.8 530.7h4.2v4.2h-4.2zM507.4 527.5h4.2v4.2h-4.2zM508.5 523.2h4.2v4.2h-4.2zM509.4 519.3h4.2v4.2h-4.2zM509.4 515.8h4.2v4.2h-4.2zM511.8 510.5h4.2v4.2h-4.2zM512.2 507.3h4.2v4.2h-4.2zM512.7 502.7h4.2v4.2h-4.2zM513.6 498.2h4.2v4.2h-4.2z" fill="none" stroke="#2a2ae0" stroke-width="1" opacity="0.9"/>
<path d="M181.6 850.5h4.2v4.2h-4.2zM193.6 850.7h4.2v4.2h-4.2zM206.9 850.0h4.2v4.2h-4.2zM218.3 850.2h4.2v4.2h-4.2zM232.0 849.9h4.2v4.2h-4.2zM243.9 850.0h4.2v4.2h-4.2z" fill="none" stroke="#2a2ae0" stroke-width="1" opacity="0.9"/>
<path d="M71.3 850.2h4.2v4.2h-4.2zM87.4 847.9h4.2v4.2h-4.2zM100.6 843.5h4.2v4.2h-4.2zM114.2 840.2h4.2v4.2h-4.2zM126.9 834.9h4.2v4.2h-4.2zM137.2 831.4h4.2v4.2h-4.2zM148.0 826.1h4.2v4.2h-4.2zM157.3 822.7h4.2v4.2h-4.2zM166.2 817.5h4.2v4.2h-4.2zM174.6 812.7h4.2v4.2h-4.2zM183.3 809.3h4.2v4.2h-4.2zM189.9 803.5h4.2v4.2h-4.2zM197.6 799.3h4.2v4.2h-4.2zM202.9 796.3h4.2v4.2h-4.2zM210.1 792.1h4.2v4.2h-4.2zM216.5 787.9h4.2v4.2h-4.2zM222.7 782.5h4.2v4.2h-4.2zM227.7 779.1h4.2v4.2h-4.2zM234.4 775.8h4.2v4.2h-4.2zM239.0 771.3h4.2v4.2h-4.2zM244.8 767.2h4.2v4.2h-4.2zM249.7 762.8h4.2v4.2h-4.2zM255.7 759.9h4.2v4.2h-4.2zM259.9 755.2h4.2v4.2h-4.2zM266.2 752.2h4.2v4.2h-4.2zM270.1 746.6h4.2v4.2h-4.2zM276.2 744.3h4.2v4.2h-4.2zM280.1 738.8h4.2v4.2h-4.2zM285.6 735.4h4.2v4.2h-4.2zM290.3 731.9h4.2v4.2h-4.2zM294.7 727.2h4.2v4.2h-4.2zM299.0 723.5h4.2v4.2h-4.2zM302.8 720.7h4.2v4.2h-4.2zM308.0 715.6h4.2v4.2h-4.2zM311.4 712.0h4.2v4.2h-4.2zM316.4 707.9h4.2v4.2h-4.2zM320.1 703.6h4.2v4.2h-4.2zM325.4 700.9h4.2v4.2h-4.2zM328.3 696.4h4.2v4.2h-4.2zM333.8 691.5h4.2v4.2h-4.2zM338.1 687.7h4.2v4.2h-4.2zM341.9 684.5h4.2v4.2h-4.2zM346.1 680.0h4.2v4.2h-4.2zM349.9 676.4h4.2v4.2h-4.2zM354.1 672.5h4.2v4.2h-4.2z" fill="none" stroke="#f01414" stroke-width="1" opacity="0.9"/>
<path d="M239.5 850.1h4.2v4.2h-4.2zM245.0 848.4h4.2v4.2h-4.2zM249.5 846.2h4.2v4.2h-4.2zM255.1 842.7h4.2v4.2h-4.2zM260.0 840.6h4.2v4.2h-4.2zM263.6 836.1h4.2v4.2h-4.2zM267.5 832.5h4.2v4.2h-4.2zM270.5 829.5h4.2v4.2h-4.2zM273.8 826.1h4.2v4.2h-4.2zM277.6 822.0h4.2v4.2h-4.2zM280.9 818.5h4.2v4.2h-4.2zM283.9 816.3h4.2v4.2h-4.2zM286.2 811.5h4.2v4.2h-4.2zM289.0 808.4h4.2v4.2h-4.2zM292.3 804.6h4.2v4.2h-4.2zM294.6 802.6h4.2v4.2h-4.2zM296.9 798.6h4.2v4.2h-4.2zM298.2 795.6h4.2v4.2h-4.2zM300.9 792.1h4.2v4.2h-4.2zM303.9 787.2h4.2v4.2h-4.2zM305.9 785.0h4.2v4.2h-4.2zM306.8 780.3h4.2v4.2h-4.2zM310.0 776.7h4.2v4.2h-4.2zM312.2 773.5h4.2v4.2h-4.2zM314.0 769.9h4.2v4.2h-4.2zM315.4 767.8h4.2v4.2h-4.2zM316.8 763.2h4.2v4.2h-4.2zM319.3 759.7h4.2v4.2h-4.2zM320.4 755.8h4.2v4.2h-4.2zM322.3 754.0h4.2v4.2h-4.2zM324.9 750.7h4.2v4.2h-4.2zM325.6 747.3h4.2v4.2h-4.2zM327.2 743.5h4.2v4.2h-4.2zM329.8 739.9h4.2v4.2h-4.2zM331.9 736.9h4.2v4.2h-4.2zM333.0 734.1h4.2v4.2h-4.2zM333.8 730.8h4.2v4.2h-4.2zM336.5 726.2h4.2v4.2h-4.2zM338.4 722.5h4.2v4.2h-4.2zM340.4 719.5h4.2v4.2h-4.2zM341.0 716.2h4.2v4.2h-4.2zM342.8 711.5h4.2v4.2h-4.2zM345.0 707.5h4.2v4.2h-4.2zM346.8 704.2h4.2v4.2h-4.2zM348.1 701.7h4.2v4.2h-4.2zM349.4 697.9h4.2v4.2h-4.2zM350.3 693.5h4.2v4.2h-4.2zM351.2 690.6h4.2v4.2h-4.2zM353.6 687.8h4.2v4.2h-4.2zM354.9 685.4h4.2v4.2h-4.2zM355.6 680.9h4.2v4.2h-4.2zM357.9 677.1h4.2v4.2h-4.2zM358.1 674.4h4.2v4.2h-4.2z" fill="none" stroke="#f01414" stroke-width="1" opacity="0.9"/>
<path d="M159.3 850.5h4.2v4.2h-4.2zM174.2 850.2h4.2v4.2h-4.2zM190.0 850.7h4.2v4.2h-4.2zM206.2 850.0h4.2v4.2h-4.2zM221.9 850.5h4.2v4.2h-4.2zM236.6 851.3h4.2v4.2h-4.2z" fill="none" stroke="#f01414" stroke-width="1" opacity="0.9"/>
<circle cx="150.2" cy="852.6" r="2.3" fill="none" stroke="#f01414" stroke-width="1"/>
<circle cx="266.1" cy="852.6" r="2.3" fill="none" stroke="#2a2ae0" stroke-width="1"/>
<circle cx="332.4" cy="852.6" r="2.3" fill="none" stroke="#2a2ae0" stroke-width="1"/>
<polyline points="151.4,852.6 152.5,852.6 153.6,852.6 154.7,852.6 155.8,852.6 156.9,852.6 158.0,852.6 159.1,852.6 160.3,852.6 161.4,852.6 162.5,852.6 163.6,852.6 164.7,852.6 165.8,852.6 166.9,852.6 168.1,852.6 169.2,852.6 170.3,852.6 171.4,852.6 172.5,852.6 173.6,852.6 174.7,852.6 175.9,852.6 177.0,852.6 178.1,852.6 179.2,852.6 180.3,852.6 181.4,852.6 182.5,852.6 183.7,852.6 184.8,852.6 185.9,852.6 187.0,852.6 188.1,852.6 189.2,852.6 190.3,852.6 191.5,852.6 192.6,852.6 193.7,852.6 194.8,852.6 195.9,852.6 197.0,852.6 198.1,852.6 199.3,852.6 200.4,852.6 201.5,852.6 202.6,852.6 203.7,852.6 204.8,852.6 205.9,852.6 207.1,852.6 208.2,852.6 209.3,852.6 210.4,852.6 211.5,852.6 212.6,852.6 213.7,852.6 214.8,852.6 216.0,852.6 217.1,852.6 218.2,852.6 219.3,852.6 220.4,852.6 221.5,852.6 222.6,852.6 223.8,852.6 224.9,852.6 226.0,852.6 227.1,852.6 228.2,852.6 229.3,852.6 230.4,852.6 231.6,852.6 232.7,852.6 233.8,852.6 234.9,852.6 236.0,852.6 237.1,852.6 238.2,852.6 239.4,852.6 240.5,852.6 241.6,852.6 242.7,852.6 243.8,852.6 244.9,852.6 246.0,852.6" fill="none" stroke="#f01414" stroke-width="1.6"/>
<polyline points="238.2,852.6 239.4,852.5 240.5,852.4 241.6,852.2 242.7,852.0 243.8,851.7 244.9,851.4 246.0,851.0 247.2,850.6 248.3,850.1 249.4,849.6 250.5,849.1 251.6,848.6 252.7,848.0 253.8,847.4 255.0,846.7 256.1,846.0 257.2,845.3 258.3,844.6 259.4,843.8 260.5,843.0 261.6,842.2 262.8,841.3 263.9,840.4 265.0,839.5 266.1,838.6 267.2,837.6 268.3,836.6 269.4,835.6 270.5,834.5 271.7,833.5 272.8,832.4 273.9,831.2 275.0,830.1 276.1,828.9 277.2,827.7 278.3,826.5 279.5,825.3 280.6,824.0 281.7,822.7 282.8,821.4 283.9,820.0 285.0,818.7 286.1,817.3 287.3,815.9 288.4,814.5 289.5,813.0 290.6,811.5 291.7,810.0 292.8,808.5 293.9,807.0 295.1,805.4 296.2,803.8 297.3,802.2 298.4,800.6 299.5,799.0 300.6,797.3 301.7,795.6 302.9,793.9 304.0,792.2 305.1,790.4 306.2,788.6 307.3,786.8 308.4,785.0 309.5,783.2 310.7,781.3 311.8,779.5 312.9,777.6 314.0,775.7 315.1,773.7 316.2,771.8 317.3,769.8 318.5,767.8 319.6,765.8 320.7,763.8 321.8,761.7 322.9,759.7 324.0,757.6 325.1,755.5 326.2,753.3 327.4,751.2 328.5,749.0 329.6,746.8 330.7,744.6 331.8,742.4 332.9,740.2 334.0,737.9 335.2,735.6 336.3,733.3 337.4,731.0 338.5,728.7 339.6,726.4 340.7,724.0 341.8,721.6 343.0,719.2 344.1,716.8 345.2,714.3 346.3,711.9 347.4,709.4 348.5,706.9 349.6,704.4 350.8,701.9 351.9,699.3 353.0,696.8 354.1,694.2 355.2,691.6 356.3,689.0 357.4,686.3 358.6,683.7 359.7,681.0 360.8,678.3 361.9,675.6 363.0,672.9 364.1,670.2 365.2,667.4 366.4,664.7 367.5,661.9 368.6,659.1 369.7,656.2 370.8,653.4 371.9,650.5 373.0,647.7 374.2,644.8 375.3,641.9 376.4,639.0 377.5,636.0" fill="none" stroke="#f01414" stroke-width="1.6"/>
<polyline points="179.2,852.6 180.3,852.6 181.4,852.6 182.5,852.6 183.7,852.6 184.8,852.6 185.9,852.6 187.0,852.6 188.1,852.6 189.2,852.6 190.3,852.6 191.5,852.6 192.6,852.6 193.7,852.6 194.8,852.6 195.9,852.6 197.0,852.6 198.1,852.6 199.3,852.6 200.4,852.6 201.5,852.6 202.6,852.6 203.7,852.6 204.8,852.6 205.9,852.6 207.1,852.6 208.2,852.6 209.3,852.6 210.4,852.6 211.5,852.6 212.6,852.6 213.7,852.6 214.8,852.6 216.0,852.6 217.1,852.6 218.2,852.6 219.3,852.6 220.4,852.6 221.5,852.6 222.6,852.6 223.8,852.6 224.9,852.6 226.0,852.6 227.1,852.6 228.2,852.6 229.3,852.6 230.4,852.6 231.6,852.6 232.7,852.6 233.8,852.6 234.9,852.6 236.0,852.6 237.1,852.6 238.2,852.6 239.4,852.6 240.5,852.6 241.6,852.6 242.7,852.6 243.8,852.6 244.9,852.6 246.0,852.6 247.2,852.6 248.3,852.6 249.4,852.6 250.5,852.6 251.6,852.6 252.7,852.6 253.8,852.6 255.0,852.6 256.1,852.6 257.2,852.6 258.3,852.6 259.4,852.6 260.5,852.6 261.6,852.6 262.8,852.6 263.9,852.6 265.0,852.6 266.1,852.6 267.2,852.6 268.3,852.6 269.4,852.6 270.5,852.6 271.7,852.6 272.8,852.6 273.9,852.6 275.0,852.6 276.1,852.6 277.2,852.6 278.3,852.6 279.5,852.6 280.6,852.6 281.7,852.6 282.8,852.6 283.9,852.6 285.0,852.6 286.1,852.6 287.3,852.6 288.4,852.6 289.5,852.6 290.6,852.6 291.7,852.6 292.8,852.6 293.9,852.6 295.1,852.6 296.2,852.6 297.3,852.6 298.4,852.6 299.5,852.6 300.6,852.6 301.7,852.6 302.9,852.6 304.0,852.6 305.1,852.6 306.2,852.6 307.3,852.6 308.4,852.6 309.5,852.6 310.7,852.6 311.8,852.6 312.9,852.6 314.0,852.6 315.1,852.6 316.2,852.6 317.3,852.6 318.5,852.6 319.6,852.6 320.7,852.6 321.8,852.6 322.9,852.6 324.0,852.6 325.1,852.6 326.2,852.6 327.4,852.6 328.5,852.6 329.6,852.6 330.7,852.6 331.8,852.6 332.9,852.6 334.0,852.6 335.2,852.6" fill="none" stroke="#0a0af0" stroke-width="1.6"/>
<polyline points="67.8,852.6 68.9,852.6 70.0,852.5 71.1,852.5 72.3,852.4 73.4,852.3 74.5,852.2 75.6,852.0 76.7,851.9 77.8,851.8 78.9,851.6 80.1,851.5 81.2,851.3 82.3,851.1 83.4,850.9 84.5,850.7 85.6,850.5 86.7,850.3 87.9,850.1 89.0,849.9 90.1,849.6 91.2,849.4 92.3,849.1 93.4,848.9 94.5,848.6 95.7,848.4 96.8,848.1 97.9,847.8 99.0,847.5 100.1,847.2 101.2,846.9 102.3,846.6 103.4,846.3 104.6,846.0 105.7,845.7 106.8,845.3 107.9,845.0 109.0,844.7 110.1,844.3 111.2,844.0 112.4,843.6 113.5,843.3 114.6,842.9 115.7,842.5 116.8,842.1 117.9,841.8 119.0,841.4 120.2,841.0 121.3,840.6 122.4,840.2 123.5,839.8 124.6,839.4 125.7,838.9 126.8,838.5 128.0,838.1 129.1,837.7 130.2,837.2 131.3,836.8 132.4,836.3 133.5,835.9 134.6,835.4 135.8,835.0 136.9,834.5 138.0,834.0 139.1,833.6 140.2,833.1 141.3,832.6 142.4,832.1 143.6,831.6 144.7,831.1 145.8,830.6 146.9,830.1 148.0,829.6 149.1,829.1 150.2,828.6 151.4,828.1 152.5,827.5 153.6,827.0 154.7,826.5 155.8,825.9 156.9,825.4 158.0,824.8 159.1,824.3 160.3,823.7 161.4,823.2 162.5,822.6 163.6,822.0 164.7,821.5 165.8,820.9 166.9,820.3 168.1,819.7 169.2,819.1 170.3,818.6 171.4,818.0 172.5,817.4 173.6,816.8 174.7,816.2 175.9,815.6 177.0,814.9 178.1,814.3 179.2,813.7 180.3,813.1 181.4,812.4 182.5,811.8 183.7,811.2 184.8,810.5 185.9,809.9 187.0,809.3 188.1,808.6 189.2,807.9 190.3,807.3 191.5,806.6 192.6,806.0 193.7,805.3 194.8,804.6 195.9,804.0 197.0,803.3 198.1,802.6 199.3,801.9 200.4,801.2 201.5,800.5 202.6,799.8 203.7,799.1 204.8,798.4 205.9,797.7 207.1,797.0 208.2,796.3 209.3,795.6 210.4,794.9 211.5,794.1 212.6,793.4 213.7,792.7 214.8,791.9 216.0,791.2 217.1,790.5 218.2,789.7 219.3,789.0 220.4,788.2 221.5,787.5 222.6,786.7 223.8,786.0 224.9,785.2 226.0,784.4 227.1,783.7 228.2,782.9 229.3,782.1 230.4,781.3 231.6,780.5 232.7,779.8 233.8,779.0 234.9,778.2 236.0,777.4 237.1,776.6 238.2,775.8 239.4,775.0 240.5,774.2 241.6,773.4 242.7,772.5 243.8,771.7 244.9,770.9 246.0,770.1 247.2,769.3 248.3,768.4 249.4,767.6 250.5,766.8 251.6,765.9 252.7,765.1 253.8,764.2 255.0,763.4 256.1,762.5 257.2,761.7 258.3,760.8 259.4,760.0 260.5,759.1 261.6,758.2 262.8,757.4 263.9,756.5 265.0,755.6 266.1,754.7 267.2,753.9 268.3,753.0 269.4,752.1 270.5,751.2 271.7,750.3 272.8,749.4 273.9,748.5 275.0,747.6 276.1,746.7 277.2,745.8 278.3,744.9 279.5,744.0 280.6,743.1 281.7,742.1 282.8,741.2 283.9,740.3 285.0,739.4 286.1,738.4 287.3,737.5 288.4,736.6 289.5,735.6 290.6,734.7 291.7,733.7 292.8,732.8 293.9,731.8 295.1,730.9 296.2,729.9 297.3,729.0 298.4,728.0 299.5,727.0 300.6,726.1 301.7,725.1 302.9,724.1 304.0,723.2 305.1,722.2 306.2,721.2 307.3,720.2 308.4,719.2 309.5,718.2 310.7,717.2 311.8,716.2 312.9,715.3 314.0,714.3 315.1,713.2 316.2,712.2 317.3,711.2 318.5,710.2 319.6,709.2 320.7,708.2 321.8,707.2 322.9,706.2 324.0,705.1 325.1,704.1 326.2,703.1 327.4,702.0 328.5,701.0 329.6,700.0 330.7,698.9 331.8,697.9 332.9,696.8 334.0,695.8 335.2,694.7 336.3,693.7 337.4,692.6 338.5,691.6 339.6,690.5 340.7,689.4 341.8,688.4 343.0,687.3 344.1,686.2 345.2,685.2 346.3,684.1 347.4,683.0 348.5,681.9 349.6,680.8 350.8,679.7 351.9,678.7 353.0,677.6 354.1,676.5 355.2,675.4 356.3,674.3 357.4,673.2 358.6,672.1 359.7,671.0 360.8,669.8 361.9,668.7 363.0,667.6 364.1,666.5 365.2,665.4 366.4,664.3 367.5,663.1 368.6,662.0 369.7,660.9 370.8,659.7 371.9,658.6 373.0,657.5 374.2,656.3 375.3,655.2 376.4,654.0 377.5,652.9 378.6,651.7 379.7,650.6 380.8,649.4 381.9,648.3 383.1,647.1 384.2,645.9 385.3,644.8 386.4,643.6 387.5,642.4 388.6,641.3 389.7,640.1 390.9,638.9 392.0,637.7 393.1,636.5 394.2,635.4 395.3,634.2 396.4,633.0 397.5,631.8 398.7,630.6 399.8,629.4 400.9,628.2 402.0,627.0 403.1,625.8 404.2,624.6 405.3,623.4 406.5,622.2 407.6,621.0 408.7,619.7 409.8,618.5 410.9,617.3 412.0,616.1 413.1,614.8 414.3,613.6 415.4,612.4 416.5,611.2 417.6,609.9 418.7,608.7 419.8,607.4 420.9,606.2 422.1,605.0 423.2,603.7 424.3,602.5 425.4,601.2 426.5,600.0 427.6,598.7 428.7,597.4 429.9,596.2 431.0,594.9 432.1,593.6 433.2,592.4 434.3,591.1 435.4,589.8 436.5,588.6 437.6,587.3 438.8,586.0 439.9,584.7 441.0,583.4 442.1,582.1 443.2,580.9 444.3,579.6 445.4,578.3 446.6,577.0 447.7,575.7 448.8,574.4 449.9,573.1 451.0,571.8 452.1,570.5 453.2,569.2 454.4,567.8 455.5,566.5 456.6,565.2 457.7,563.9 458.8,562.6 459.9,561.3 461.0,559.9 462.2,558.6 463.3,557.3 464.4,555.9 465.5,554.6 466.6,553.3 467.7,551.9 468.8,550.6 470.0,549.2 471.1,547.9 472.2,546.5 473.3,545.2 474.4,543.8 475.5,542.5 476.6,541.1 477.8,539.8 478.9,538.4 480.0,537.1 481.1,535.7 482.2,534.3 483.3,532.9 484.4,531.6 485.6,530.2 486.7,528.8 487.8,527.4 488.9,526.1 490.0,524.7 491.1,523.3 492.2,521.9 493.3,520.5 494.5,519.1 495.6,517.7 496.7,516.3 497.8,514.9 498.9,513.5 500.0,512.1 501.1,510.7 502.3,509.3 503.4,507.9 504.5,506.5 505.6,505.1 506.7,503.7 507.8,502.3 508.9,500.8 510.1,499.4 511.2,498.0 512.3,496.6 513.4,495.1 514.5,493.7 515.6,492.3 516.7,490.8 517.9,489.4 519.0,488.0 520.1,486.5 521.2,485.1 522.3,483.6 523.4,482.2 524.5,480.7 525.7,479.3 526.8,477.8" fill="none" stroke="#0a0af0" stroke-width="1.6"/>
<polyline points="335.2,852.6 336.3,852.5 337.4,852.4 338.5,852.2 339.6,852.0 340.7,851.7 341.8,851.4 343.0,851.0 344.1,850.6 345.2,850.1 346.3,849.6 347.4,849.1 348.5,848.6 349.6,848.0 350.8,847.4 351.9,846.7 353.0,846.0 354.1,845.3 355.2,844.6 356.3,843.8 357.4,843.0 358.6,842.2 359.7,841.3 360.8,840.4 361.9,839.5 363.0,838.6 364.1,837.6 365.2,836.6 366.4,835.6 367.5,834.5 368.6,833.5 369.7,832.4 370.8,831.2 371.9,830.1 373.0,828.9 374.2,827.7 375.3,826.5 376.4,825.3 377.5,824.0 378.6,822.7 379.7,821.4 380.8,820.0 381.9,818.7 383.1,817.3 384.2,815.9 385.3,814.5 386.4,813.0 387.5,811.5 388.6,810.0 389.7,808.5 390.9,807.0 392.0,805.4 393.1,803.8 394.2,802.2 395.3,800.6 396.4,799.0 397.5,797.3 398.7,795.6 399.8,793.9 400.9,792.2 402.0,790.4 403.1,788.6 404.2,786.8 405.3,785.0 406.5,783.2 407.6,781.3 408.7,779.5 409.8,777.6 410.9,775.7 412.0,773.7 413.1,771.8 414.3,769.8 415.4,767.8 416.5,765.8 417.6,763.8 418.7,761.7 419.8,759.7 420.9,757.6 422.1,755.5 423.2,753.3 424.3,751.2 425.4,749.0 426.5,746.8 427.6,744.6 428.7,742.4 429.9,740.2 431.0,737.9 432.1,735.6 433.2,733.3 434.3,731.0 435.4,728.7 436.5,726.4 437.6,724.0 438.8,721.6 439.9,719.2 441.0,716.8 442.1,714.3 443.2,711.9 444.3,709.4 445.4,706.9 446.6,704.4 447.7,701.9 448.8,699.3 449.9,696.8 451.0,694.2 452.1,691.6 453.2,689.0 454.4,686.3 455.5,683.7 456.6,681.0 457.7,678.3 458.8,675.6 459.9,672.9 461.0,670.2 462.2,667.4 463.3,664.7 464.4,661.9 465.5,659.1 466.6,656.2 467.7,653.4 468.8,650.5 470.0,647.7 471.1,644.8 472.2,641.9 473.3,639.0 474.4,636.0 475.5,633.1 476.6,630.1 477.8,627.1 478.9,624.1 480.0,621.1 481.1,618.1 482.2,615.0 483.3,611.9 484.4,608.9 485.6,605.8 486.7,602.6 487.8,599.5 488.9,596.4 490.0,593.2 491.1,590.0 492.2,586.8 493.3,583.5 494.5,580.3 495.6,576.9 496.7,573.5 497.8,570.1 498.9,566.6 500.0,563.1 501.1,559.5 502.3,555.9 503.4,552.3 504.5,548.6 505.6,544.8 506.7,541.1 507.8,537.2 508.9,533.4 510.1,529.4 511.2,525.5 512.3,521.5 513.4,517.4 514.5,513.3 515.6,509.2 516.7,505.0 517.9,500.8 519.0,496.6 520.1,492.2 521.2,487.9 522.3,483.5 523.4,479.1" fill="none" stroke="#0a0af0" stroke-width="1.6"/>
<text x="81" y="507" font-family='"Liberation Serif", serif' font-weight="bold" font-style="italic" font-size="31" fill="#000">b</text>
<text transform="translate(27.1,730.8) rotate(-90)" font-size="19.4" fill="#111" stroke="#111" stroke-width="0.4" textLength="111.3" xml:space="preserve">Load <tspan font-style="italic">L</tspan>  [mN]</text>
<text x="345.5" y="903.5" font-size="20" fill="#111" stroke="#111" stroke-width="0.34" xml:space="preserve" textLength="190">Contact depth <tspan font-style="italic">h</tspan>  [nm]</text>
<text x="161.0" y="610.4" font-size="23.4" fill="#0a0af0" stroke="#0a0af0" stroke-width="0.40" xml:space="preserve" >R6M5</text>
<rect x="160.5" y="612.9" width="63.5" height="1.7" fill="#0a0af0"/>
<text x="123.0" y="640.5" font-size="17.9" fill="#0a0af0" stroke="#0a0af0" stroke-width="0.30" xml:space="preserve" ><tspan font-style="italic">L</tspan></text>
<text transform="translate(135.8,644.0) scale(0.62,1)" text-anchor="middle" font-family='"DejaVu Sans", sans-serif' font-size="15" fill="#0a0af0">↑</text>
<text x="143.5" y="640.5" font-size="17.9" fill="#0a0af0" stroke="#0a0af0" stroke-width="0.30" xml:space="preserve" >= 2.5×10<tspan font-size="11.8" dy="-7.8">-3</tspan><tspan dy="7.8"> </tspan><tspan font-style="italic">h</tspan><tspan font-size="11.8" dy="-7.8">1.6</tspan></text>
<text x="123.0" y="660.8" font-size="17.9" fill="#0a0af0" stroke="#0a0af0" stroke-width="0.30" xml:space="preserve" ><tspan font-style="italic">L</tspan></text>
<text transform="translate(135.8,669.3) scale(0.62,1)" text-anchor="middle" font-family='"DejaVu Sans", sans-serif' font-size="21" fill="#0a0af0">↓</text>
<text x="143.5" y="660.8" font-size="17.9" fill="#0a0af0" stroke="#0a0af0" stroke-width="0.30" xml:space="preserve" >= 5.0×10<tspan font-size="11.8" dy="-7.8">-3</tspan><tspan dy="7.8"> </tspan>(<tspan font-style="italic">h</tspan> - 240)<tspan font-size="11.8" dy="-7.8">1.7</tspan></text>
<text x="160.7" y="679.2" font-size="17.9" fill="#f01414" stroke="#f01414" stroke-width="0.30" xml:space="preserve" >5.0×10<tspan font-size="11.8" dy="-7.8">-3</tspan><tspan dy="7.8"> </tspan>(<tspan font-style="italic">h</tspan> - 153)<tspan font-size="11.8" dy="-7.8">1.7</tspan></text>
<text x="388.0" y="587.0" font-size="20.7" fill="#0a0af0" stroke="#0a0af0" stroke-width="0.35" xml:space="preserve" ><tspan font-style="italic">L</tspan></text>
<text transform="translate(403.0,592.0) scale(0.62,1)" text-anchor="middle" font-family='"DejaVu Sans", sans-serif' font-size="16" fill="#0a0af0">↑</text>
<text x="407.5" y="587.0" font-size="20.7" fill="#0a0af0" stroke="#0a0af0" stroke-width="0.35" xml:space="preserve" >(<tspan font-style="italic">h</tspan>)</text>
<text x="463.0" y="698.0" font-size="20.7" fill="#0a0af0" stroke="#0a0af0" stroke-width="0.35" xml:space="preserve" ><tspan font-style="italic">L</tspan></text>
<text transform="translate(478.0,706.0) scale(0.62,1)" text-anchor="middle" font-family='"DejaVu Sans", sans-serif' font-size="19" fill="#0a0af0">↓</text>
<text x="482.5" y="698.0" font-size="20.7" fill="#0a0af0" stroke="#0a0af0" stroke-width="0.35" xml:space="preserve" >(<tspan font-style="italic">h</tspan>)</text>
<text x="463.5" y="782.0" font-size="20" fill="#0a0af0" stroke="#0a0af0" stroke-width="0.34" xml:space="preserve" text-anchor="middle">Elastic</text>
<text x="466.0" y="806.0" font-size="20" fill="#0a0af0" stroke="#0a0af0" stroke-width="0.34" xml:space="preserve" text-anchor="middle">recovery</text>
<text x="477.0" y="844.0" font-size="19.5" fill="#0a0af0" stroke="#0a0af0" stroke-width="0.33" xml:space="preserve" ><tspan font-style="italic">h</tspan><tspan font-size="13.5" dy="3.5">max</tspan></text>
<path d="M519.4 843.6V866.6" stroke="#0a0af0" stroke-width="1.6"/>
<path transform="translate(432.4,593.6) rotate(-45.0)" d="M4.5 0L-4.5 -3.4L-4.5 3.4z" fill="#0a0af0"/>
<path transform="translate(462.5,662.4) rotate(113.0)" d="M4.5 0L-4.5 -3.4L-4.5 3.4z" fill="#0a0af0"/>
<path d="M67.8 882.0V894.0M332.0 846.0V894.0M67.8 887.5H332.0" stroke="#0a0af0" stroke-width="1.5" fill="none"/>
<path d="M67.8 887.5l7.5 -2.4v4.8zM332.0 887.5l-7.5 -2.4v4.8z" fill="#0a0af0"/>
<text x="144.0" y="906.0" font-size="14.5" fill="#0a0af0" stroke="#0a0af0" stroke-width="0.25" xml:space="preserve" >Residual depth <tspan font-style="italic">h</tspan><tspan font-size="10" dy="3">res</tspan></text>
</svg>
</body></html>
